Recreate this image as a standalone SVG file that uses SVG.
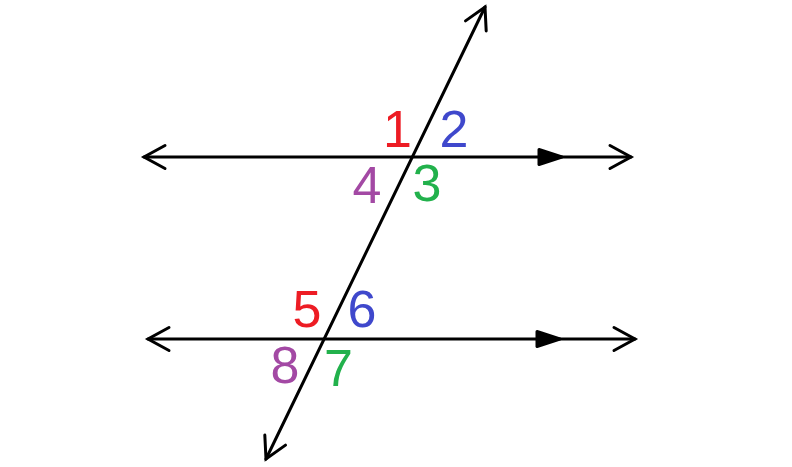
<svg xmlns="http://www.w3.org/2000/svg" width="792" height="467" viewBox="0 0 792 467">
<defs>
<style>
.ln{stroke:#000;stroke-width:3;fill:none;stroke-linecap:round}
.tri{fill:#000;stroke:#000;stroke-width:3;stroke-linejoin:round}
.lbl{font-family:"Liberation Sans",Arial,sans-serif;font-size:52px}
</style>
<marker id="open" markerUnits="userSpaceOnUse" markerWidth="30" markerHeight="30" viewBox="-25 -15 30 30" refX="0" refY="0" orient="auto-start-reverse" overflow="visible">
<path d="M-21,-11.5 L0,0 L-21,11.5" fill="none" stroke="#000" stroke-width="3" stroke-linecap="round" stroke-linejoin="miter"/>
</marker>
</defs>
<rect width="792" height="467" fill="#fff"/>
<g id="connectors">
<line class="ln" x1="144" y1="157" x2="631" y2="157" marker-start="url(#open)" marker-end="url(#open)"/>
<line class="ln" x1="148" y1="339" x2="635" y2="339" marker-start="url(#open)" marker-end="url(#open)"/>
<line class="ln" x1="266" y1="459" x2="485" y2="7" marker-start="url(#open)" marker-end="url(#open)"/>
<polygon class="tri" points="539,149.5 562,157 539,164.5"/>
<polygon class="tri" points="537,331.5 560,339 537,346.5"/>
</g>
<g id="labels">
<text class="lbl" x="383" y="147" fill="#ED1C24">1</text>
<text class="lbl" x="439.5" y="147" fill="#3F48CC">2</text>
<text class="lbl" x="412.5" y="201" fill="#22B14C">3</text>
<text class="lbl" x="352.5" y="203" fill="#A349A4">4</text>
<text class="lbl" x="292.5" y="327" fill="#ED1C24">5</text>
<text class="lbl" x="347.5" y="327" fill="#3F48CC">6</text>
<text class="lbl" x="324" y="386" fill="#22B14C">7</text>
<text class="lbl" x="270.5" y="383" fill="#A349A4">8</text>
</g>
</svg>
